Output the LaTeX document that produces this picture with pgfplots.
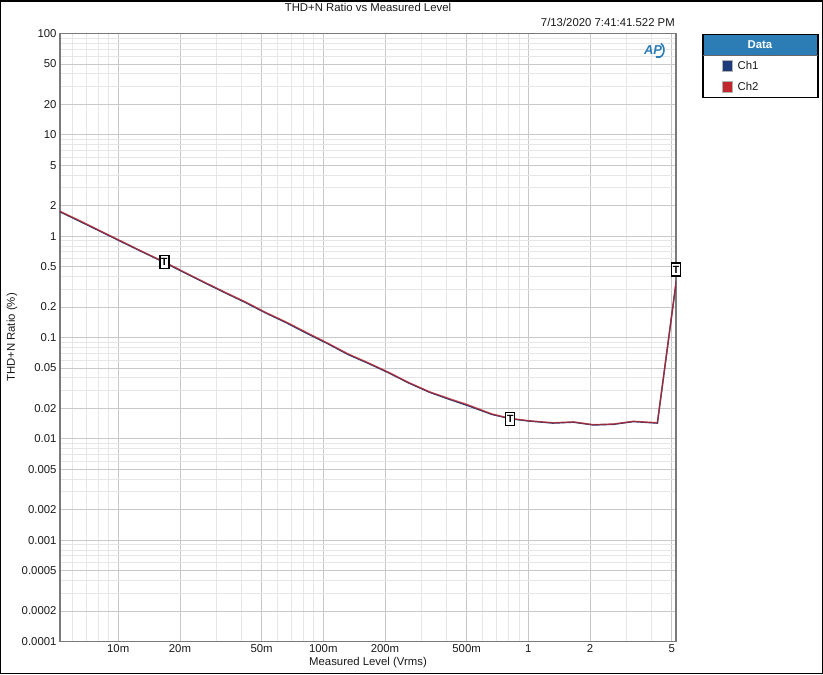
\documentclass[border=0pt]{standalone}
\usepackage{fontspec}
\setmainfont{Liberation Sans}
\usepackage{pgfplots}
\pgfplotsset{compat=1.18}
\definecolor{chone}{HTML}{1F3A78}
\definecolor{chtwo}{HTML}{C0282D}
\definecolor{legblue}{HTML}{2C7DB6}
\definecolor{majgrid}{HTML}{C8C8C8}
\definecolor{mingrid}{HTML}{E6E6E6}
\definecolor{axgray}{HTML}{7A7A7A}

\begin{document}
\begin{tikzpicture}[x=1bp,y=1bp,font=\fontsize{11.4}{13}\selectfont]
% outer frame of the window
\draw[black, line width=1.5bp] (0.75,-0.75) rectangle (822.25,-673.25);

\begin{axis}[
  at={(60bp,-641bp)}, anchor=south west,
  scale only axis, width=616bp, height=608bp,
  xmode=log, ymode=log,
  xmin=0.0052, xmax=5.25, ymin=0.0001, ymax=100,
  xtick={0.01,0.02,0.05,0.1,0.2,0.5,1,2,5},
  xticklabels={10m,20m,50m,100m,200m,500m,1,2,5},
  minor xtick={0.006,0.007,0.008,0.009,0.03,0.04,0.06,0.07,0.08,0.09,0.3,0.4,0.6,0.7,0.8,0.9,3,4},
  ytick={0.0001,0.0002,0.0005,0.001,0.002,0.005,0.01,0.02,0.05,0.1,0.2,0.5,1,2,5,10,20,50,100},
  yticklabels={0.0001,0.0002,0.0005,0.001,0.002,0.005,0.01,0.02,0.05,0.1,0.2,0.5,1,2,5,10,20,50,100},
  minor ytick={0.0003,0.0004,0.0006,0.0007,0.0008,0.0009,0.003,0.004,0.006,0.007,0.008,0.009,0.03,0.04,0.06,0.07,0.08,0.09,0.3,0.4,0.6,0.7,0.8,0.9,3,4,6,7,8,9,30,40,60,70,80,90},
  grid=both,
  major grid style={majgrid, line width=0.9bp},
  minor grid style={mingrid, line width=0.9bp},
  major tick length=0pt, minor tick length=0pt,
  axis line style={axgray, line width=1.3bp},
  tick label style={font=\fontsize{11.4}{13}\selectfont, text=black!90},
  xlabel={Measured Level (Vrms)},
  ylabel={THD+N Ratio (\%)},
  xlabel style={at={(axis description cs:0.5,0)}, anchor=center, yshift=-21bp, font=\fontsize{11.4}{13}\selectfont, text=black!90},
  ylabel style={at={(axis description cs:0,0.5)}, anchor=center, yshift=48bp, font=\fontsize{11.4}{13}\selectfont, text=black!90},
]
% Ch1
\addplot[chone, line width=1.4bp] coordinates {
  (0.0052,1.74) (0.0066,1.38) (0.0083,1.10) (0.0105,0.87) (0.0132,0.695)
  (0.0168,0.55) (0.021,0.437) (0.026,0.352) (0.033,0.278) (0.042,0.220)
  (0.052,0.176) (0.066,0.140) (0.083,0.110) (0.105,0.087) (0.132,0.068)
  (0.166,0.0555) (0.21,0.0445) (0.26,0.0357) (0.33,0.0288) (0.42,0.0242)
  (0.50,0.0215) (0.665,0.0174) (0.817,0.0158) (1.0,0.0150) (1.32,0.0143)
  (1.66,0.0146) (2.07,0.0137) (2.60,0.0139) (3.25,0.0148) (4.26,0.0143)
  (5.27,0.365)
};
% Ch2
\addplot[chtwo, line width=1.4bp, opacity=0.75] coordinates {
  (0.0052,1.76) (0.0066,1.40) (0.0083,1.11) (0.0105,0.88) (0.0132,0.70)
  (0.0168,0.556) (0.021,0.442) (0.026,0.356) (0.033,0.281) (0.042,0.223)
  (0.052,0.178) (0.066,0.142) (0.083,0.112) (0.105,0.088) (0.132,0.069)
  (0.166,0.0562) (0.21,0.0450) (0.26,0.0361) (0.33,0.0291) (0.42,0.0246)
  (0.50,0.0219) (0.665,0.0176) (0.817,0.0159) (1.0,0.0151) (1.32,0.0144)
  (1.66,0.0147) (2.07,0.0138) (2.60,0.0140) (3.25,0.0149) (4.26,0.0144)
  (5.27,0.366)
};
% cursor markers
\addplot[draw=none, mark=none, nodes near coords={T},
  every node near coord/.style={anchor=center, draw=black, fill=white, text=black,
    line width=1.3bp, inner sep=0pt, minimum width=9bp, minimum height=13bp,
    font=\fontsize{10.5}{10.5}\selectfont\bfseries}]
  coordinates {(0.0168,0.56) (0.817,0.0158) (5.25,0.468)};
\end{axis}

% title and timestamp
\node[text=black!90] at (368,-7) {THD+N Ratio vs Measured Level};
\node[anchor=east, inner sep=0pt, text=black!90] at (675,-22) {7/13/2020 7:41:41.522 PM};

% AP logo
\node[legblue, font=\fontsize{13}{13}\selectfont\bfseries\itshape, inner sep=0pt] at (653,-50) {AP};
\draw[legblue, line width=1.6bp] (661,-43) arc[start angle=60, end angle=-110, x radius=6bp, y radius=7.5bp];

% legend box
\fill[legblue] (703,-34) rectangle (818,-55);
\draw[black, line width=1.3bp] (703,-34) rectangle (818,-97);
\draw[black!60, line width=0.6bp] (703,-55) -- (818,-55);
\node[white, font=\fontsize{11.4}{13}\selectfont\bfseries] at (760,-44.5) {Data};
\fill[chone] (722.5,-59.5) rectangle (732.5,-70.5);
\draw[black!30, line width=0.4bp] (722.5,-59.5) rectangle (732.5,-70.5);
\node[anchor=west, inner sep=0pt, text=black!90] at (737.5,-65) {Ch1};
\fill[chtwo] (722.5,-80.5) rectangle (732.5,-91.5);
\draw[black!30, line width=0.4bp] (722.5,-80.5) rectangle (732.5,-91.5);
\node[anchor=west, inner sep=0pt, text=black!90] at (737.5,-86) {Ch2};
\end{tikzpicture}
\end{document}
